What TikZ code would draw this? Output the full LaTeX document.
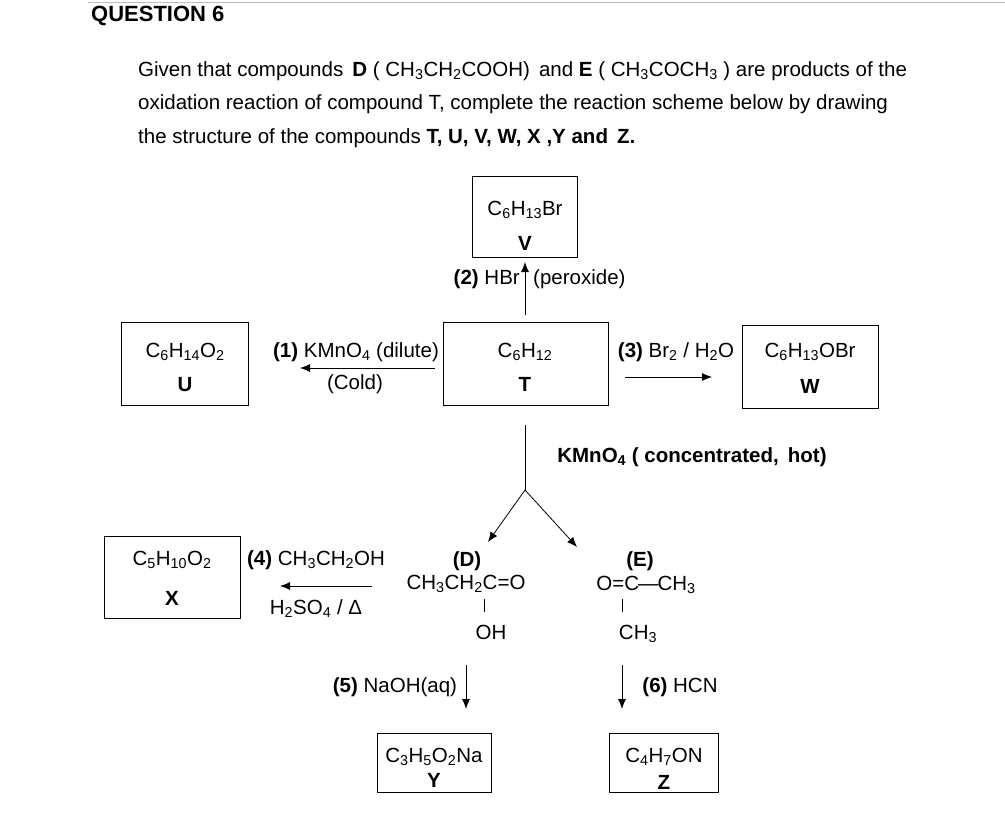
\documentclass[tikz,border=0pt]{standalone}
\usepackage{fontspec}
\setmainfont{Liberation Sans}
\usetikzlibrary{arrows.meta}
\newcommand{\sbx}[1]{\textsubscript{#1}}
\begin{document}
\begin{tikzpicture}[x=1pt,y=-1pt,
  box/.style={draw,line width=0.8pt},
  t/.style={font=\fontsize{20.5}{23}\selectfont,inner sep=1pt},
  tb/.style={font=\fontsize{20.5}{23}\selectfont\bfseries,inner sep=1pt},
  arr/.style={-{Latex[length=10pt,width=8pt]},line width=0.8pt}]
\useasboundingbox (0,0) rectangle (1005,840);
\draw[gray!50] (88,2) -- (1005,2);
\node[anchor=west,font=\fontsize{22}{24}\selectfont\bfseries,inner sep=1pt] (q) at (90,16) {QUESTION 6};
\node[t,anchor=west] (p1) at (137,71) {Given that compounds \,\textbf{D} ( CH\sbx{3}CH\sbx{2}COOH)\, and \textbf{E} ( CH\sbx{3}COCH\sbx{3} ) are products of the};
\node[t,anchor=west] (p2) at (137,104) {oxidation reaction of compound T, complete the reaction scheme below by drawing};
\node[t,anchor=west] (p3) at (137,138) {the structure of the compounds \textbf{T, U, V, W, X ,Y and \,Z.}};
% boxes
\draw[box] (472,176) rectangle (577,257);
\node[t] (v1) at (525,210) {C\sbx{6}H\sbx{13}Br};
\node[tb] (v2) at (525,243) {V};
\draw[box] (121,322) rectangle (248,405);
\node[t] (u1) at (185,352) {C\sbx{6}H\sbx{14}O\sbx{2}};
\node[tb] (u2) at (185,385) {U};
\draw[box] (443,322) rectangle (608,405);
\node[t] (t1) at (525,352) {C\sbx{6}H\sbx{12}};
\node[tb] (t2) at (525,384) {T};
\draw[box] (742,325) rectangle (878,408);
\node[t] (w1) at (810,352) {C\sbx{6}H\sbx{13}OBr};
\node[tb] (w2) at (810,386) {W};
\draw[box] (104,536) rectangle (240,618);
\node[t] (x1) at (172,560) {C\sbx{5}H\sbx{10}O\sbx{2}};
\node[tb] (x2) at (172,598) {X};
\draw[box] (377,733) rectangle (491,792);
\node[t] (y1) at (434,757) {C\sbx{3}H\sbx{5}O\sbx{2}Na};
\node[tb] (y2) at (434,780) {Y};
\draw[box] (609,733) rectangle (718,792);
\node[t] (z1) at (664,757) {C\sbx{4}H\sbx{7}ON};
\node[tb] (z2) at (664,782) {Z};
% (2)
\coordinate (a2s) at (525,315); \coordinate (a2e) at (525,262);
\draw[arr] (a2s) -- (a2e);
\node[t,anchor=east] (l2) at (521,279) {\textbf{(2)} HBr};
\node[t,anchor=west] (l2b) at (532,279) {(peroxide)};
% (1)
\node[t] (l1) at (356,352) {\textbf{(1)} KMnO\sbx{4} (dilute)};
\node[t] (l1b) at (355,384) {(Cold)};
\coordinate (a1s) at (435,368); \coordinate (a1e) at (300,368);
\draw[arr] (a1s) -- (a1e);
% (3)
\node[t] (l3) at (676,352) {\textbf{(3)} Br\sbx{2} / H\sbx{2}O};
\coordinate (a3s) at (625,377); \coordinate (a3e) at (712,377);
\draw[arr] (a3s) -- (a3e);
% branch
\coordinate (b0) at (525,425); \coordinate (b1) at (525,490);
\coordinate (bd) at (488,542); \coordinate (be) at (577,547);
\draw[line width=0.8pt] (b0) -- (b1);
\draw[arr] (b1) -- (bd);
\draw[arr] (b1) -- (be);
\node[tb] (kc) at (692,457) {KMnO\sbx{4} ( concentrated,\, hot)};
% (4)
\node[t] (l4) at (316,560) {\textbf{(4)} CH\sbx{3}CH\sbx{2}OH};
\node[t] (l4b) at (316,609) {H\sbx{2}SO\sbx{4} / Δ};
\coordinate (a4s) at (372,586); \coordinate (a4e) at (280,586);
\draw[arr] (a4s) -- (a4e);
% D
\node[tb] (dl) at (467,561) {(D)};
\node[t] (d1) at (466,584) {CH\sbx{3}CH\sbx{2}C=O};
\node[t] (d2) at (491,632) {OH};
\draw[line width=0.7pt] (484,599) -- (484,612);
% E
\node[tb] (el) at (640,561) {(E)};
\node[t] (e1) at (646,585) {O=C\kern-1pt---\kern-1ptCH\sbx{3}};
\node[t] (e2) at (638,634) {CH\sbx{3}};
\draw[line width=0.7pt] (622,599) -- (622,612);
% (5)(6)
\node[t] (l5) at (395,687) {\textbf{(5)} NaOH(aq)};
\coordinate (a5s) at (466,665); \coordinate (a5e) at (466,709);
\draw[arr] (a5s) -- (a5e);
\node[t] (l6) at (680,687) {\textbf{(6)} HCN};
\coordinate (a6s) at (622,665); \coordinate (a6e) at (622,709);
\draw[arr] (a6s) -- (a6e);
\end{tikzpicture}
\end{document}
